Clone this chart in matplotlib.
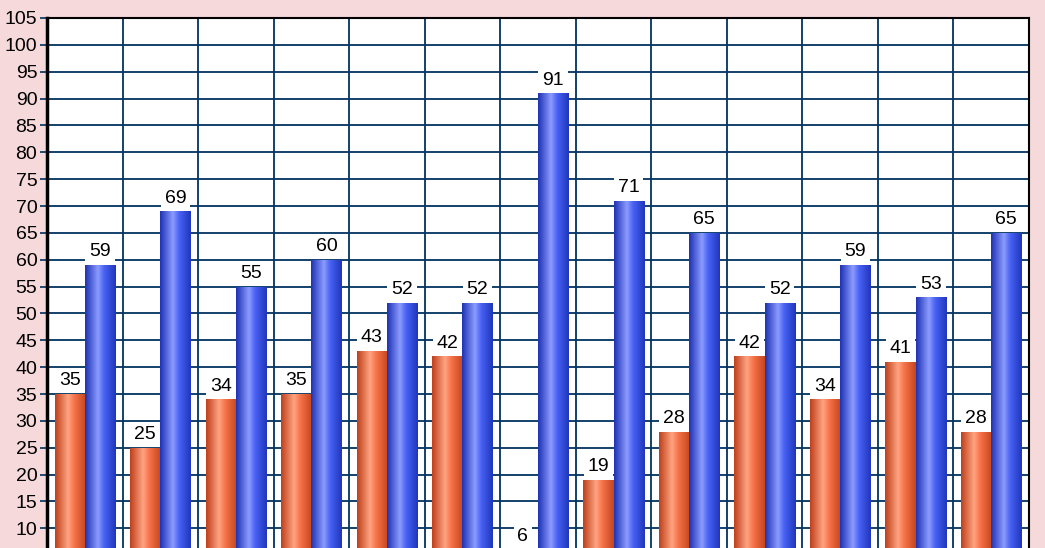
import numpy as np
import matplotlib
matplotlib.use("Agg")
import matplotlib.pyplot as plt
from matplotlib.colors import LinearSegmentedColormap

categories = [str(i) for i in range(1, 14)]
orange_values = [35, 25, 34, 35, 43, 42, 6, 19, 28, 42, 34, 41, 28]
blue_values = [59, 69, 55, 60, 52, 52, 91, 71, 65, 52, 59, 53, 65]
y_ticks = list(range(10, 106, 5))

plt.rcParams['font.family'] = ['Liberation Sans', 'DejaVu Sans']

W, H = 1045, 548
fig = plt.figure(figsize=(W / 100, H / 100), dpi=100)
fig.patch.set_facecolor('#f6d9da')
left, right, top, bottom = 47, 1029, 18, 548
ax = fig.add_axes([left / W, 1 - bottom / H, (right - left) / W, (bottom - top) / H])
ax.set_facecolor('white')

n = len(categories)
x = np.arange(n)
bw = 0.4
ob = ax.bar(x - bw / 2, orange_values, bw, color='#f0602e', zorder=3)
bb = ax.bar(x + bw / 2, blue_values, bw, color='#3450e6', zorder=3)

cmap_o = LinearSegmentedColormap.from_list('o', [(0, '#c0401c'), (0.42, '#ffa482'), (0.62, '#f8744a'), (1, '#c4461f')])
cmap_b = LinearSegmentedColormap.from_list('b', [(0, '#1e32b4'), (0.42, '#8c9cff'), (0.62, '#4862f4'), (1, '#2036bc')])
grad = np.linspace(0, 1, 64).reshape(1, -1)
for bars, cm in ((ob, cmap_o), (bb, cmap_b)):
    for p in bars:
        x0, y0 = p.get_x(), p.get_y()
        im = ax.imshow(grad, cmap=cm, aspect='auto', interpolation='bicubic',
                       extent=(x0, x0 + p.get_width(), y0, y0 + p.get_height()), zorder=3.5)
        im.set_clip_path(p)

for bars, vals in ((ob, orange_values), (bb, blue_values)):
    for p, v in zip(bars, vals):
        ax.annotate(str(v), (p.get_x() + p.get_width() / 2, v), xytext=(0, 9.5),
                    textcoords='offset points', ha='center', va='center', fontsize=14,
                    color='black', zorder=5, annotation_clip=False,
                    bbox=dict(boxstyle='square,pad=0.2', fc='white', ec='none'))

ax.set_xlim(-0.5, n - 0.5)
ax.set_ylim(6.33, 105)
ax.set_yticks(y_ticks)
ax.set_yticklabels([str(t) for t in y_ticks], fontsize=14)
ax.set_xticks(np.arange(-0.5, n, 1.0))
ax.set_xticklabels([])
ax.tick_params(axis='x', length=0)
ax.tick_params(axis='y', length=5, width=1.2, color='#00335f', pad=2)
ax.grid(True, color='#00335f', linewidth=1.3, zorder=1)
ax.set_axisbelow(True)
for s in ('top', 'right'):
    ax.spines[s].set_color('black')
    ax.spines[s].set_linewidth(1.5)
ax.spines['left'].set_color('black')
ax.spines['left'].set_linewidth(2.5)
ax.spines['bottom'].set_visible(False)

fig.savefig('out.png', dpi=100, facecolor=fig.get_facecolor())
